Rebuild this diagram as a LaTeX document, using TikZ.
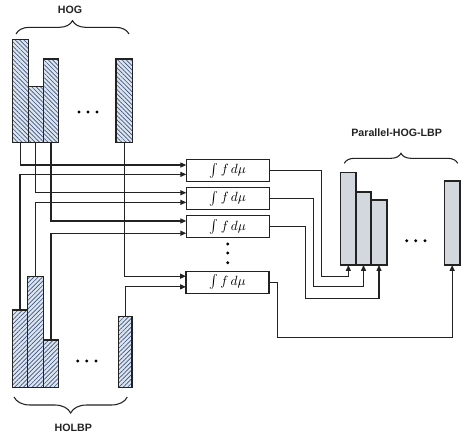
\documentclass[tikz,border=0pt]{standalone}
\usepackage{fontspec}
\newfontfamily\lblfont{Liberation Sans}
\usetikzlibrary{arrows.meta,patterns.meta,decorations.pathreplacing}
\definecolor{hogfill}{HTML}{DCE6F2}
\definecolor{hogline}{HTML}{3E5277}
\definecolor{parfill}{HTML}{D2D8DE}
\definecolor{edgec}{HTML}{222222}
\newcommand{\mkbar}[6]{\node[#2, minimum width={(#5-#3)*0.75pt}, minimum height={(#6-#4)*0.75pt}] (#1) at ({(#3+#5)/2},{(#4+#6)/2}) {};}
\tikzset{
  barbase/.style={draw=edgec, line width=0.9pt, inner sep=0pt, outer sep=0pt, rectangle},
  hogbar/.style={barbase, preaction={fill=hogfill}, pattern={Lines[angle=-45,distance=2.3pt,line width=0.5pt]}, pattern color=hogline},
  lbpbar/.style={barbase, preaction={fill=hogfill}, pattern={Lines[angle=45,distance=2.3pt,line width=0.5pt]}, pattern color=hogline},
  parbar/.style={barbase, fill=parfill},
  fusebox/.style={draw=edgec, line width=0.9pt, rectangle, inner sep=0pt, outer sep=0pt, minimum width={83*0.75pt}, minimum height={22*0.75pt}, font=\fontsize{10}{12}\selectfont},
  conn/.style={draw=edgec, line width=0.9pt},
  arr/.style={conn, -{Triangle[length=4.5pt,width=3.8pt]}},
  bracestyle/.style={draw=edgec, line width=0.8pt, decorate},
  lbl/.style={font=\lblfont\bfseries\fontsize{8}{10}\selectfont, text=edgec},
  dot/.style={fill=black}
}
\begin{document}
\begin{tikzpicture}[x=0.75pt,y=-0.75pt]
\path[use as bounding box] (0,0) rectangle (474,441);
% HOG bars
\mkbar{h1}{hogbar}{12.3}{39.3}{28.3}{142.7}
\mkbar{h2}{hogbar}{28.3}{86.7}{43.3}{142.7}
\mkbar{h3}{hogbar}{43.3}{59}{58.7}{142.7}
\mkbar{h4}{hogbar}{116}{59}{132.3}{142.7}
% HOLBP bars
\mkbar{l1}{lbpbar}{12.3}{310}{27.7}{387.7}
\mkbar{l2}{lbpbar}{27.7}{276.7}{43.3}{387.7}
\mkbar{l3}{lbpbar}{43.3}{340}{58.7}{387.7}
\mkbar{l4}{lbpbar}{118.3}{316.7}{132}{387.7}
% Parallel bars
\mkbar{p1}{parbar}{340.7}{172.7}{356}{265}
\mkbar{p2}{parbar}{356}{192}{371}{265}
\mkbar{p3}{parbar}{371}{200}{387}{265}
\mkbar{p4}{parbar}{444.3}{181}{460}{265}
% fusion boxes
\node[fusebox] (f1) at (227.8,170.5) {$\int f\,d\mu$};
\node[fusebox] (f2) at (227.8,198.5) {$\int f\,d\mu$};
\node[fusebox] (f3) at (227.8,226.7) {$\int f\,d\mu$};
\node[fusebox] (f4) at (227.5,282.2) {$\int f\,d\mu$};
% labels
\node[lbl] (thog) at (70,9.5) {HOG};
\node[lbl] (tlbp) at (73.3,427.7) {HOLBP};
\node[lbl] (tpar) at (396.7,132.7) {Parallel-HOG-LBP};
% braces
\draw[bracestyle, decoration={brace,amplitude=10pt}] (16,34) -- (129,34);
\draw[bracestyle, decoration={brace,amplitude=12pt}] (127.3,397) -- (14,397);
\draw[bracestyle, decoration={brace,amplitude=7.5pt}] (344.3,163.3) -- (457.7,163.3);
% dots
\foreach \x in {79,88,97} \fill[dot] (\x,112) circle (1.6);
\foreach \x in {77.7,86.7,96} \fill[dot] (\x,361) circle (1.6);
\foreach \x in {406.7,415.7,425} \fill[dot] (\x,240.7) circle (1.6);
\foreach \y in {244,253,262.7} \fill[dot] (227.7,\y) circle (1.6);
% inputs
\draw[arr] (h1.south) |- ([yshift=4.1pt]f1.west);
\draw[arr] (l1.north) |- ([yshift=-2.9pt]f1.west);
\draw[arr] (h2.south) |- ([yshift=4.3pt]f2.west);
\draw[arr] (l2.north) |- ([yshift=-2.9pt]f2.west);
\draw[arr] (h3.south) |- ([yshift=4.3pt]f3.west);
\draw[arr] (l3.north) |- ([yshift=-4.9pt]f3.west);
\draw[arr] (h4.south) |- ([yshift=4.5pt]f4.west);
\draw[arr] (l4.north) |- ([yshift=-3.5pt]f4.west);
% outputs
\coordinate (k1) at (321.7,276.7);
\coordinate (k2) at (313.3,286.7);
\coordinate (k3) at (305.7,298.3);
\coordinate (k4) at (277.3,337.3);
\draw[arr] (f1.east) -| (k1) -| (p1.south);
\draw[arr] (f2.east) -| (k2) -| (p2.south);
\draw[arr] (f3.east) -| (k3) -| (p3.south);
\draw[arr] (f4.east) -| (k4) -| (p4.south);
\end{tikzpicture}
\end{document}
